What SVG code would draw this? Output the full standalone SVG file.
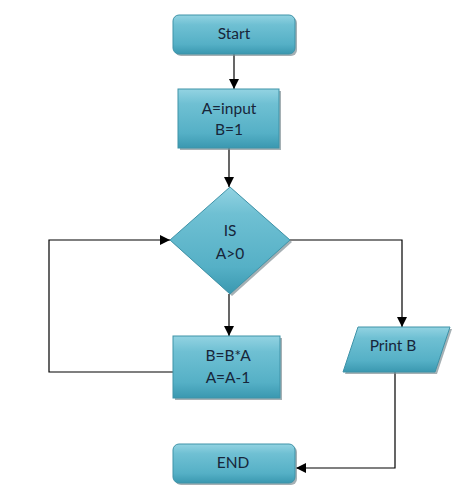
<svg xmlns="http://www.w3.org/2000/svg" width="474" height="489" viewBox="0 0 474 489">
<defs>
<linearGradient id="g" x1="0" y1="0" x2="0" y2="1">
<stop offset="0" stop-color="#93d3e2"/>
<stop offset="0.25" stop-color="#6fc0d3"/>
<stop offset="0.75" stop-color="#55b0c6"/>
<stop offset="1" stop-color="#3a98b0"/>
</linearGradient>
<marker id="arr" viewBox="0 0 10 10" refX="10" refY="5" markerWidth="10" markerHeight="10" markerUnits="userSpaceOnUse" orient="auto">
<path d="M0,0 L10,5 L0,10 z" fill="#000"/>
</marker>
</defs>
<style>
.shape{fill:url(#g);stroke:#3f93a8;stroke-width:1}
.shadow{fill:#7f8e94;opacity:0.7}
.t{font-family:"Lato","Open Sans","Liberation Sans",sans-serif;font-size:15.5px;fill:#17263a;text-anchor:middle;dominant-baseline:central}
.c{fill:none;stroke:#000;stroke-width:1.2}
</style>
<rect width="474" height="489" fill="#fff"/>
<g id="connectors">
<line class="c" x1="234" y1="54" x2="234" y2="89" marker-end="url(#arr)"/>
<line class="c" x1="229" y1="148" x2="229" y2="187" marker-end="url(#arr)"/>
<line class="c" x1="229" y1="294" x2="229" y2="336" marker-end="url(#arr)"/>
<polyline class="c" points="173,372 49,372 49,240 170,240" marker-end="url(#arr)"/>
<polyline class="c" points="290,240 402,240 402,327" marker-end="url(#arr)"/>
<polyline class="c" points="395,372 395,468 296,468" marker-end="url(#arr)"/>
</g>
<g id="start">
<rect class="shadow" x="175" y="17" width="122" height="39" rx="6"/>
<rect class="shape" x="173" y="15" width="122" height="39" rx="6"/>
<text class="t" x="234" y="33">Start</text>
</g>
<g id="init">
<rect class="shadow" x="180" y="91" width="101" height="59"/>
<rect class="shape" x="178" y="89" width="101" height="59"/>
<text class="t" x="229" y="108">A=input</text>
<text class="t" x="229" y="129">B=1</text>
</g>
<g id="decision">
<polygon class="shadow" points="232,189 292,242 232,296 172,242"/>
<polygon class="shape" points="230,187 290,240 230,294 170,240"/>
<text class="t" x="230" y="230">IS</text>
<text class="t" x="230" y="253">A&gt;0</text>
</g>
<g id="process">
<rect class="shadow" x="175" y="338" width="107" height="62"/>
<rect class="shape" x="173" y="336" width="107" height="62"/>
<text class="t" x="228" y="355">B=B*A</text>
<text class="t" x="228" y="377">A=A-1</text>
</g>
<g id="print">
<polygon class="shadow" points="360,329 452,329 437,374 345,374"/>
<polygon class="shape" points="358,327 450,327 435,372 343,372"/>
<text class="t" x="393" y="345">Print B</text>
</g>
<g id="end">
<rect class="shadow" x="175" y="446" width="122" height="39" rx="6"/>
<rect class="shape" x="173" y="444" width="122" height="39" rx="6"/>
<text class="t" x="233" y="462">END</text>
</g>
</svg>
